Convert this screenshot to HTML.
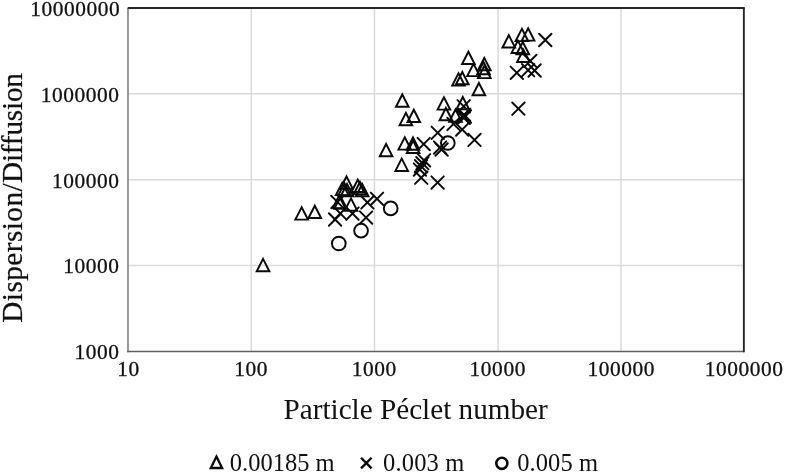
<!DOCTYPE html>
<html lang="en">
<head>
<meta charset="utf-8">
<title>Dispersion/Diffusion vs Particle Péclet number</title>
<style>
html,body{margin:0;padding:0;background:#fff;}
body{width:785px;height:472px;overflow:hidden;position:relative;}
svg{position:absolute;left:0;top:0;display:block;}
text{font-family:"Liberation Serif","DejaVu Serif",serif;fill:#111;}
.tk{font-size:21.4px;letter-spacing:0.56px;stroke:#111;stroke-width:0.3px;}
.ax{font-size:29.2px;}
.lg{font-size:24.5px;}
.g{stroke:#dadada;stroke-width:1.5;fill:none;}
.m{stroke:#0a0a0a;stroke-width:1.95;fill:none;stroke-linejoin:miter;}
.x{stroke:#0a0a0a;stroke-width:1.95;fill:none;stroke-linecap:round;}
</style>
</head>
<body>
<svg width="785" height="472" viewBox="0 0 785 472">
<rect x="0" y="0" width="785" height="472" fill="#ffffff"/>
<g class="g">
<line x1="251.3" y1="7.95" x2="251.3" y2="351.5"/>
<line x1="374.45" y1="7.95" x2="374.45" y2="351.5"/>
<line x1="498.05" y1="7.95" x2="498.05" y2="351.5"/>
<line x1="621" y1="7.95" x2="621" y2="351.5"/>
<line x1="128" y1="93.87" x2="743.85" y2="93.87"/>
<line x1="128" y1="179.82" x2="743.85" y2="179.82"/>
<line x1="128" y1="265.6" x2="743.85" y2="265.6"/>
</g>
<line x1="128" y1="7.95" x2="128" y2="352.3" stroke="#808080" stroke-width="1.6"/>
<line x1="127.2" y1="351.5" x2="743.85" y2="351.5" stroke="#606060" stroke-width="1.6"/>
<line x1="127.7" y1="7.95" x2="744.8" y2="7.95" stroke="#262626" stroke-width="1.9"/>
<line x1="743.85" y1="7.95" x2="743.85" y2="352.3" stroke="#262626" stroke-width="1.9"/>
<g class="m">
<path d="M263.05 258.9L269.35 271.2L256.75 271.2Z"/>
<path d="M301.65 207.3L307.95 219.6L295.35 219.6Z"/>
<path d="M314.8 205.7L321.1 218L308.5 218Z"/>
<path d="M346.5 176.5L352.8 188.8L340.2 188.8Z"/>
<path d="M342.2 182.8L348.5 195.1L335.9 195.1Z"/>
<path d="M344.5 183.3L350.8 195.6L338.2 195.6Z"/>
<path d="M347 184L353.3 196.3L340.7 196.3Z"/>
<path d="M357.75 179.7L364.05 192L351.45 192Z"/>
<path d="M360 182L366.3 194.3L353.7 194.3Z"/>
<path d="M362.2 184L368.5 196.3L355.9 196.3Z"/>
<path d="M339 195.8L345.3 208.1L332.7 208.1Z"/>
<path d="M340.6 196.4L346.9 208.7L334.3 208.7Z"/>
<path d="M351 198.4L357.3 210.7L344.7 210.7Z"/>
<path d="M386.1 144L392.4 156.3L379.8 156.3Z"/>
<path d="M404.75 137.3L411.05 149.6L398.45 149.6Z"/>
<path d="M413 137.5L419.3 149.8L406.7 149.8Z"/>
<path d="M413.1 140.7L419.4 153L406.8 153Z"/>
<path d="M401.7 158.6L408 170.9L395.4 170.9Z"/>
<path d="M402.3 94.5L408.6 106.8L396 106.8Z"/>
<path d="M405.9 112.9L412.2 125.2L399.6 125.2Z"/>
<path d="M413.8 109.7L420.1 122L407.5 122Z"/>
<path d="M443.9 97.3L450.2 109.6L437.6 109.6Z"/>
<path d="M445.9 108L452.2 120.3L439.6 120.3Z"/>
<path d="M455.5 109.5L461.8 121.8L449.2 121.8Z"/>
<path d="M462.8 97L469.1 109.3L456.5 109.3Z"/>
<path d="M478.9 83L485.2 95.3L472.6 95.3Z"/>
<path d="M468.4 51.7L474.7 64L462.1 64Z"/>
<path d="M473.5 63.8L479.8 76.1L467.2 76.1Z"/>
<path d="M458.5 73.3L464.8 85.6L452.2 85.6Z"/>
<path d="M462.3 72L468.6 84.3L456 84.3Z"/>
<path d="M484.3 57.9L490.6 70.2L478 70.2Z"/>
<path d="M483.5 62L489.8 74.3L477.2 74.3Z"/>
<path d="M484.3 65.8L490.6 78.1L478 78.1Z"/>
<path d="M508.8 35.2L515.1 47.5L502.5 47.5Z"/>
<path d="M521.9 28.8L528.2 41.1L515.6 41.1Z"/>
<path d="M528.1 28.3L534.4 40.6L521.8 40.6Z"/>
<path d="M517.9 40.6L524.2 52.9L511.6 52.9Z"/>
<path d="M522.8 42L529.1 54.3L516.5 54.3Z"/>
<path d="M523.4 49.7L529.7 62L517.1 62Z"/>
<circle cx="338.8" cy="243.5" r="6.85"/>
<circle cx="361.05" cy="230.7" r="6.85"/>
<circle cx="390.7" cy="208.4" r="6.85"/>
<circle cx="447.8" cy="143" r="6.85"/>
</g>
<g class="x">
<path d="M328.9 213.3L341.3 225.7M328.9 225.7L341.3 213.3"/>
<path d="M331.2 195.7L343.6 208.1M331.2 208.1L343.6 195.7"/>
<path d="M334.1 207.2L346.5 219.6M334.1 219.6L346.5 207.2"/>
<path d="M346.3 207.4L358.7 219.8M346.3 219.8L358.7 207.4"/>
<path d="M359.85 211.4L372.25 223.8M359.85 223.8L372.25 211.4"/>
<path d="M361.2 196.2L373.6 208.6M361.2 208.6L373.6 196.2"/>
<path d="M370.8 192.6L383.2 205M370.8 205L383.2 192.6"/>
<path d="M417.5 137.9L429.9 150.3M417.5 150.3L429.9 137.9"/>
<path d="M431.5 126.6L443.9 139M431.5 139L443.9 126.6"/>
<path d="M433.9 141.4L446.3 153.8M433.9 153.8L446.3 141.4"/>
<path d="M435.4 143.3L447.8 155.7M435.4 155.7L447.8 143.3"/>
<path d="M417.8 154.1L430.2 166.5M417.8 166.5L430.2 154.1"/>
<path d="M416.2 157L428.6 169.4M416.2 169.4L428.6 157"/>
<path d="M414.8 160L427.2 172.4M414.8 172.4L427.2 160"/>
<path d="M413.7 163.4L426.1 175.8M413.7 175.8L426.1 163.4"/>
<path d="M415 171.5L427.4 183.9M415 183.9L427.4 171.5"/>
<path d="M431.4 176.4L443.8 188.8M431.4 188.8L443.8 176.4"/>
<path d="M447.3 117.7L459.7 130.1M447.3 130.1L459.7 117.7"/>
<path d="M456 123.4L468.4 135.8M456 135.8L468.4 123.4"/>
<path d="M468.3 133.7L480.7 146.1M468.3 146.1L480.7 133.7"/>
<path d="M457.5 100.1L469.9 112.5M457.5 112.5L469.9 100.1"/>
<path d="M457.9 108.6L470.3 121M457.9 121L470.3 108.6"/>
<path d="M457.5 111.6L469.9 124M457.5 124L469.9 111.6"/>
<path d="M456.8 109.8L469.2 122.2M456.8 122.2L469.2 109.8"/>
<path d="M458.7 110.3L471.1 122.7M458.7 122.7L471.1 110.3"/>
<path d="M512.2 102.5L524.6 114.9M512.2 114.9L524.6 102.5"/>
<path d="M539.1 33.8L551.5 46.2M539.1 46.2L551.5 33.8"/>
<path d="M510.6 66.6L523 79M510.6 79L523 66.6"/>
<path d="M524.1 54.7L536.5 67.1M524.1 67.1L536.5 54.7"/>
<path d="M521.9 64L534.3 76.4M521.9 76.4L534.3 64"/>
<path d="M528.4 64.3L540.8 76.7M528.4 76.7L540.8 64.3"/>
</g>
<text class="tk" x="120.2" y="15.65" text-anchor="end">10000000</text>
<text class="tk" x="119.6" y="101.72" text-anchor="end">1000000</text>
<text class="tk" x="119.6" y="187.67" text-anchor="end">100000</text>
<text class="tk" x="119.6" y="273.45" text-anchor="end">10000</text>
<text class="tk" x="119.6" y="359.35" text-anchor="end">1000</text>
<text class="tk" x="128.4" y="376.45" text-anchor="middle">10</text>
<text class="tk" x="251.25" y="376.45" text-anchor="middle">100</text>
<text class="tk" x="374.15" y="376.45" text-anchor="middle">1000</text>
<text class="tk" x="497.75" y="376.45" text-anchor="middle">10000</text>
<text class="tk" x="621.2" y="376.45" text-anchor="middle">100000</text>
<text class="tk" x="744.05" y="376.45" text-anchor="middle">1000000</text>
<text class="ax" x="283.5" y="419.1">Particle Péclet number</text>
<text class="ax" transform="translate(22.2 322.7) rotate(-90)" stroke="#111" stroke-width="0.25"><tspan letter-spacing="0.47">Dispersion/</tspan><tspan letter-spacing="-0.19">Diffusion</tspan></text>
<path d="M216.45 456.6L222.1 467.95L210.8 467.95Z" fill="none" stroke="#0a0a0a" stroke-width="2.35"/>
<text class="lg" x="229.8" y="471.1">0.00185 m</text>
<path d="M361.0 457.75L371.6 468.35M361.0 468.35L371.6 457.75" fill="none" stroke="#0a0a0a" stroke-width="2.4"/>
<text class="lg" x="383.0" y="471.1" letter-spacing="0.17">0.003 m</text>
<circle cx="501.85" cy="463.35" r="5.55" fill="none" stroke="#0a0a0a" stroke-width="2.6"/>
<text class="lg" x="517.2" y="471.1" letter-spacing="0.1">0.005 m</text>
</svg>
</body>
</html>
